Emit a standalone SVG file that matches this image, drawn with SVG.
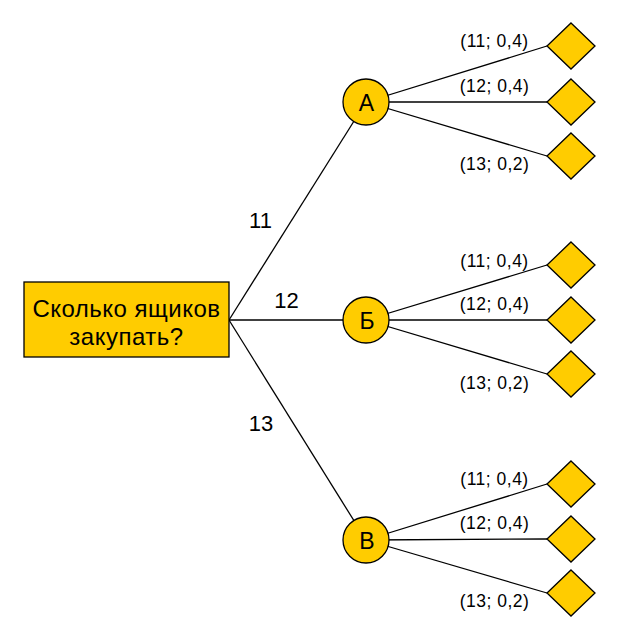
<svg xmlns="http://www.w3.org/2000/svg" width="617" height="640" viewBox="0 0 617 640">
<style>
.shape{fill:#FFCC00;stroke:#000;stroke-width:1.3}
.edge{stroke:#000;stroke-width:1.3;fill:none}
text{font-family:"Liberation Sans",Arial,sans-serif;fill:#000}
.big{font-size:24px;letter-spacing:0.5px;text-anchor:middle}
.ltr{font-size:23px;text-anchor:middle}
.lbl{font-size:22px;text-anchor:middle}
.out{font-size:17.5px;letter-spacing:0.5px;text-anchor:middle}
</style>
<rect width="617" height="640" fill="#fff"/>
<g id="connectors">
<line class="edge" x1="229" y1="320" x2="366" y2="102"/>
<line class="edge" x1="229" y1="320" x2="366" y2="320"/>
<line class="edge" x1="229" y1="320" x2="366" y2="540"/>
<line class="edge" x1="366" y1="102" x2="547" y2="46"/>
<line class="edge" x1="366" y1="102" x2="547" y2="102"/>
<line class="edge" x1="366" y1="102" x2="547" y2="156"/>
<line class="edge" x1="366" y1="320" x2="547" y2="265"/>
<line class="edge" x1="366" y1="320" x2="547" y2="320"/>
<line class="edge" x1="366" y1="320" x2="547" y2="374"/>
<line class="edge" x1="366" y1="540" x2="547" y2="484"/>
<line class="edge" x1="366" y1="540" x2="547" y2="539"/>
<line class="edge" x1="366" y1="540" x2="547" y2="593"/>
<text class="lbl" x="260.5" y="228">11</text>
<text class="lbl" x="286.5" y="308">12</text>
<text class="lbl" x="261" y="431">13</text>
</g>
<g id="root">
<rect class="shape" x="24" y="282" width="205" height="75"/>
<text class="big" x="126.5" y="317">Сколько ящиков</text>
<text class="big" x="126.5" y="345">закупать?</text>
</g>
<g id="nodeA">
<circle class="shape" cx="366" cy="102" r="23"/>
<text class="ltr" x="366.5" y="110.5">А</text>
</g>
<g id="nodeB">
<circle class="shape" cx="366" cy="320" r="23"/>
<text class="ltr" x="367" y="328.5">Б</text>
</g>
<g id="nodeV">
<circle class="shape" cx="366" cy="540" r="23"/>
<text class="ltr" x="367" y="548.5">В</text>
</g>
<g id="A1"><polygon class="shape" points="571,23 595,46 571,69 547,46"/><text class="out" x="494.5" y="47">(11; 0,4)</text></g>
<g id="A2"><polygon class="shape" points="571,79 595,102 571,125 547,102"/><text class="out" x="494.5" y="92">(12; 0,4)</text></g>
<g id="A3"><polygon class="shape" points="571,133 595,156 571,179 547,156"/><text class="out" x="494.5" y="170">(13; 0,2)</text></g>
<g id="B1"><polygon class="shape" points="571,242 595,265 571,288 547,265"/><text class="out" x="494.5" y="267">(11; 0,4)</text></g>
<g id="B2"><polygon class="shape" points="571,297 595,320 571,343 547,320"/><text class="out" x="494.5" y="310">(12; 0,4)</text></g>
<g id="B3"><polygon class="shape" points="571,351 595,374 571,397 547,374"/><text class="out" x="494.5" y="389">(13; 0,2)</text></g>
<g id="V1"><polygon class="shape" points="571,461 595,484 571,507 547,484"/><text class="out" x="494.5" y="485">(11; 0,4)</text></g>
<g id="V2"><polygon class="shape" points="571,516 595,539 571,562 547,539"/><text class="out" x="494.5" y="529">(12; 0,4)</text></g>
<g id="V3"><polygon class="shape" points="571,570 595,593 571,616 547,593"/><text class="out" x="494.5" y="607">(13; 0,2)</text></g>
</svg>
